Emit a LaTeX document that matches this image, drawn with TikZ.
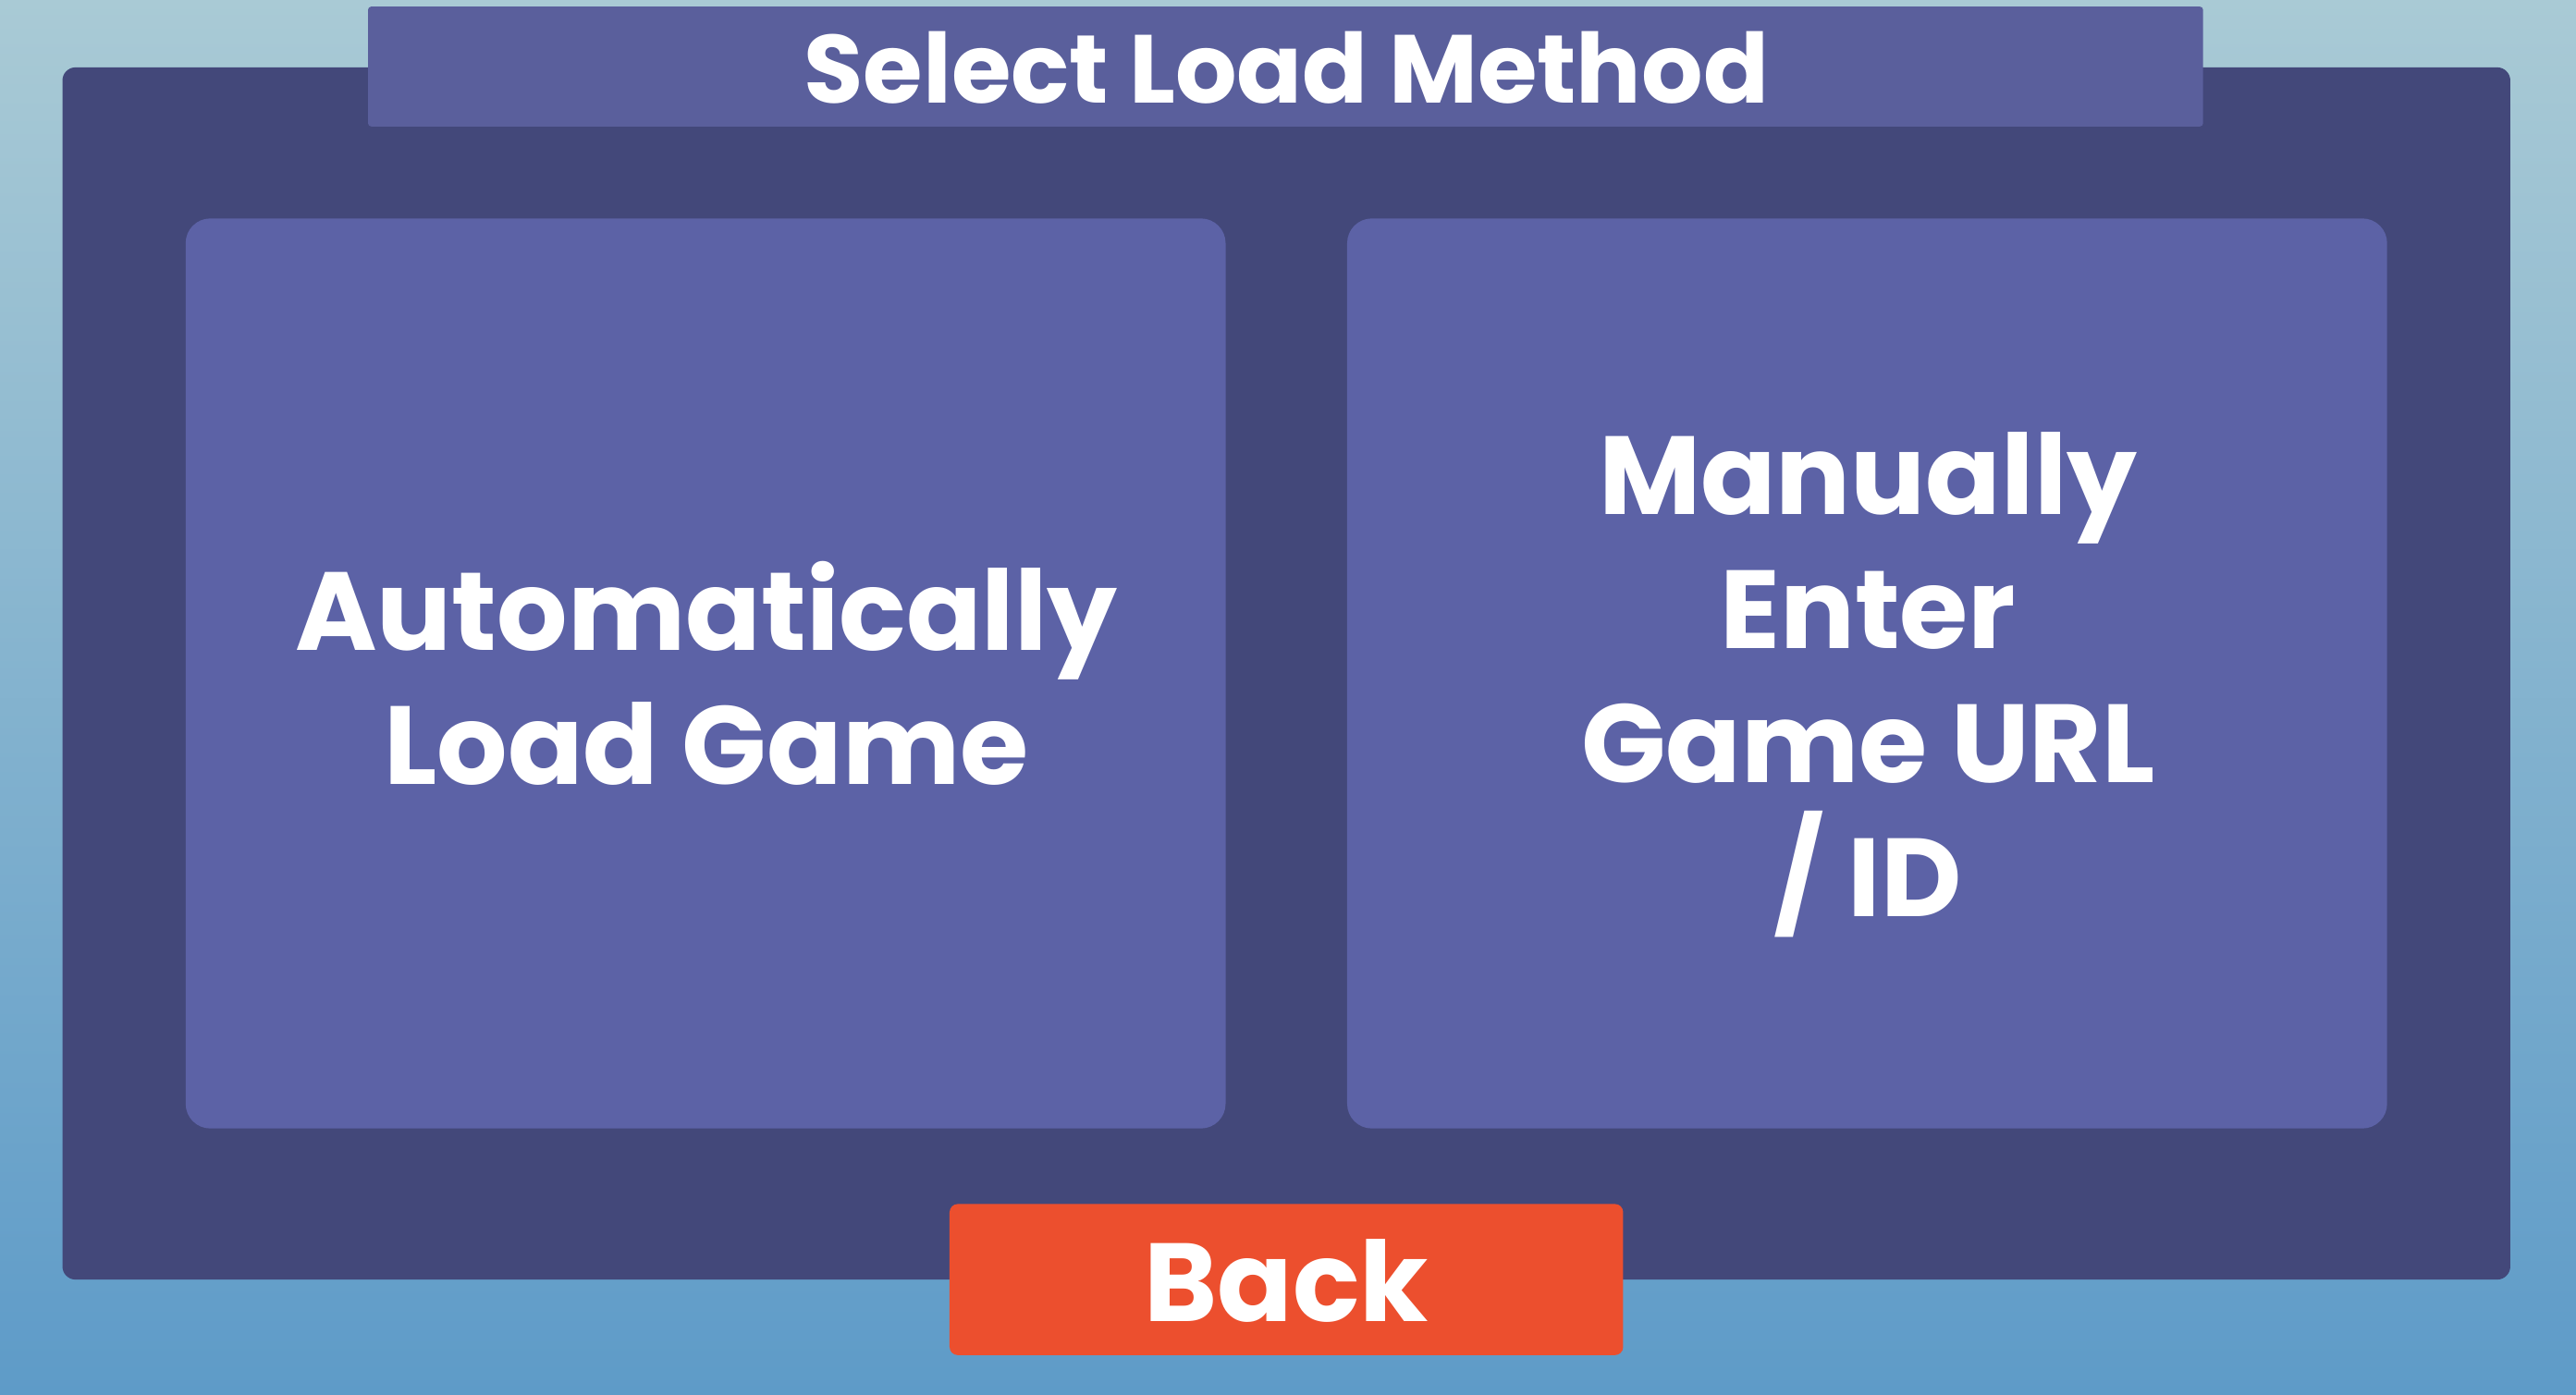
\documentclass[tikz,border=0pt]{standalone}
\usepackage{fontspec}
\setmainfont{Poppins}
\definecolor{bgtop}{HTML}{A9CAD5}
\definecolor{bgbot}{HTML}{5E9BC8}
\definecolor{panel}{HTML}{43487A}
\definecolor{titlec}{HTML}{5A5F9C}
\definecolor{btn}{HTML}{5C62A6}
\definecolor{backc}{HTML}{EC4F2E}
\tikzset{
  btnbox/.style={fill=btn, rounded corners=0.3cm},
  lbl/.style={text=white, font=\fontsize{38.5}{46.5}\selectfont\bfseries, align=center},
}
\begin{document}
\begin{tikzpicture}[x=0.02cm,y=-0.02cm]
\shade[top color=bgtop, bottom color=bgbot] (0,0) rectangle (1568,849);
\useasboundingbox (0,0) rectangle (1568,849);
\fill[panel, rounded corners=0.16cm] (38,41) rectangle (1528,779);
\fill[titlec, rounded corners=0.04cm] (224,4) rectangle (1341,77);
\node[text=white, font=\fontsize{33.5}{38}\selectfont\bfseries] (title) at (783,41) {Select Load Method};
\fill[btnbox] (113,133) rectangle (746,687);
\fill[btnbox] (820,133) rectangle (1453,687);
\node[lbl] (auto) at (430,410) {Automatically\\Load Game};
\node[lbl] (manual) at (1137,417) {Manually\\Enter\\Game URL\\/ ID};
\fill[backc, rounded corners=0.1cm] (578,733) rectangle (988,825);
\node[lbl] (back) at (783,780) {Back};
\end{tikzpicture}
\end{document}
